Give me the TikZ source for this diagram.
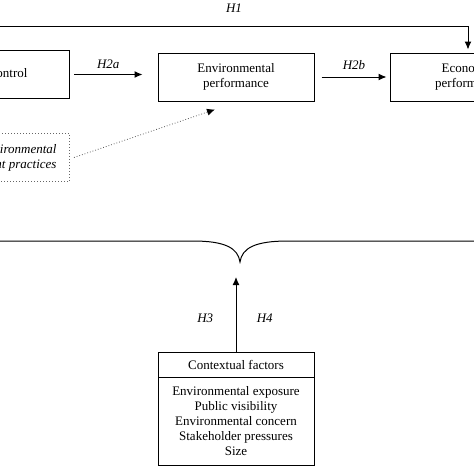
\documentclass[tikz,border=0pt]{standalone}
\usepackage{fontspec}
\setmainfont{Liberation Serif}
\usetikzlibrary{positioning,calc,arrows.meta}

\begin{document}
\begin{tikzpicture}[
    x=1pt, y=-1pt,
    line width=1pt,
    every node/.style={font=\fontsize{13}{15.2}\selectfont},
    box/.style={draw, minimum width=156pt, minimum height=48pt, align=center, inner sep=0pt},
    hyp/.style={font=\fontsize{13}{15.2}\selectfont\itshape},
    link/.style={-{Latex[length=8pt,width=7pt]}}
  ]
  \useasboundingbox (0,0) rectangle (474,474);
  \clip (0,0) rectangle (474,474);

  \node[box] (envperf) at (236,77) {Environmental\\performance};
  \node[box, right=75pt of envperf] (ecoperf) {Economic\\performance};
  \node[box, anchor=east, minimum width=0pt, inner xsep=42pt] (mgmt) at (70,74.5)
    {Management control};
  \node[box, anchor=east, minimum width=0pt, inner xsep=13pt, align=right,
        dotted, draw=gray!80!black, hyp] (envprac) at (70,157.5)
    {Environmental\\management practices};

  \draw[link] ([xshift=4pt]mgmt.east) -- ($(mgmt.east -| envperf.west)+(-15,0)$)
    node[hyp, midway, above=2pt] {H2a};
  \draw[link] ([xshift=7pt]envperf.east) -- ([xshift=-3pt]ecoperf.west)
    node[hyp, midway, above=4pt] {H2b};

  \coordinate (h1row) at (234,26);
  \node[hyp, above=10pt] (h1) at (h1row) {H1};
  \draw[link] (mgmt.north) -- (mgmt.north |- h1row) -| ([yshift=3pt]ecoperf.north);

  \draw[-{Latex[length=8pt,width=7pt,color=black]}, dotted, gray!70!black, line width=0.8pt]
    ([xshift=4pt]envprac.east) -- ($(envperf.south)+(-21,8)$);

  % moderating brace
  \coordinate (bracetip) at (240,262);
  \draw (-5,241) -- (193,241) .. controls (225,241) and (238,248) .. (bracetip)
    .. controls (242,248) and (255,241) .. (288,241) -- (480,241);

  \node[box, minimum height=25pt] (ctxtitle) at (236,364.5) {Contextual factors};
  \node[box, minimum height=88pt, below=-1pt of ctxtitle] (ctxlist)
    {Environmental exposure\\Public visibility\\Environmental concern\\Stakeholder pressures\\Size};

  \draw[link] (ctxtitle.north) -- ($(ctxtitle.north |- bracetip)+(0,15)$)
    node[hyp, pos=0.45, left=19pt] {H3}
    node[hyp, pos=0.45, right=17pt] {H4};
\end{tikzpicture}
\end{document}
